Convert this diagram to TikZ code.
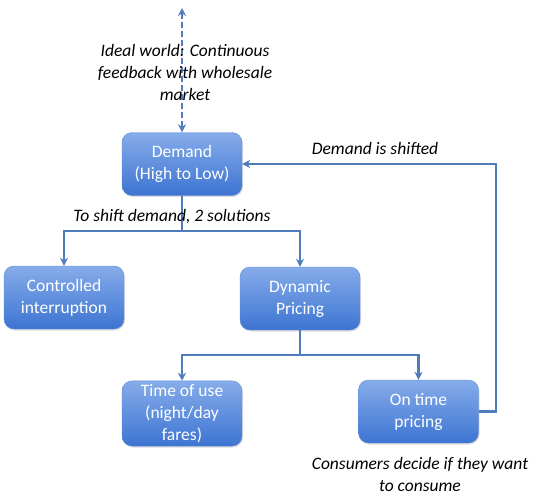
\documentclass[tikz,border=0pt]{standalone}
\usepackage{fontspec}
\setmainfont{Carlito}
\usetikzlibrary{arrows.meta,shadows}

\definecolor{boxtop}{HTML}{86ACEA}
\definecolor{boxbottom}{HTML}{3D74D2}
\definecolor{boxline}{HTML}{5F8CD2}
\definecolor{linkblue}{HTML}{4F7DBC}

\begin{document}
\begin{tikzpicture}[x = 1pt, y = -1pt,
						stagebox/.style={rectangle, rounded corners=10pt, draw=boxline,
							top color=boxtop, bottom color=boxbottom, text=white,
							minimum width=120pt, minimum height=63pt, align=center,
							font=\fontsize{17.5}{22}\selectfont,
							drop shadow={opacity=0.25, shadow xshift=1pt, shadow yshift=-1.5pt}},
						note/.style={align=center, font=\fontsize{17.5}{22}\selectfont\itshape},
						link/.style={draw=linkblue, line width=2.4pt, -{Stealth[length=8pt, width=8pt]}},
						]

		\useasboundingbox (0, 0) rectangle (538, 498);

		% Boxes
		\node[stagebox] (demand) at (182, 164) {Demand\\(High to Low)};
		\node[stagebox] (ctrl) at (64, 297.5) {Controlled\\interruption};
		\node[stagebox] (dyn) at (300, 298.5) {Dynamic\\Pricing};
		\node[stagebox] (tou) at (182, 413.5) {Time of use\\(night/day\\fares)};
		\node[stagebox] (otp) at (418.5, 411.5) {On time\\pricing};

		% Helper points
		\coordinate (market) at (182, 8);
		\coordinate (split1) at (182, 231);
		\coordinate (split2) at (300, 355);
		\coordinate (fbcorner) at (496, 164);

		% Link to wholesale market
		\draw[link, dash pattern=on 6pt off 3pt, {Stealth[length=8pt, width=8pt]}-{Stealth[length=8pt, width=8pt]}]
			(demand.north) -- (market);

		% Two solutions
		\draw[link, -] (demand.south) -- (split1);
		\draw[link] (split1) -| (ctrl.north);
		\draw[link] (split1) -| (dyn.north);

		% Dynamic pricing variants
		\draw[link, -] (dyn.south) -- (split2);
		\draw[link] (split2) -| (tou.north);
		\draw[link] (split2) -| (otp.north);

		% Feedback
		\draw[link] (otp.east) -| (fbcorner) -- (demand.east);

		% Notes
		\node[note] (ideal) at (185, 72) {Ideal world: Continuous\\feedback with wholesale\\market};
		\node[note] (shiftnote) at (172, 217) {To shift demand, 2 solutions};
		\node[note] (shifted) at (375, 148) {Demand is shifted};
		\node[note] (consumers) at (420, 474) {Consumers decide if they want\\to consume};

	\end{tikzpicture}
\end{document}
